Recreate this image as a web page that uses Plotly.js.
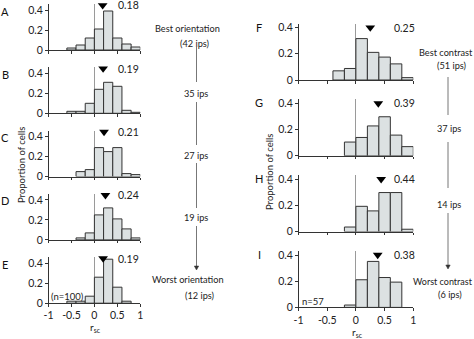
<!DOCTYPE html>
<html><head><meta charset="utf-8">
<script src="https://cdn.plot.ly/plotly-3.0.1.min.js"></script>
<style>html,body{margin:0;padding:0;background:#fff}#chart{width:474px;height:339px}</style>
</head><body><div id="chart"></div>
<script>
// ---- data ----
const binsLeft = [-0.5, -0.3, -0.1, 0.1, 0.3, 0.5, 0.7, 0.9];
const binsRight = [-0.3, -0.1, 0.1, 0.3, 0.5, 0.7, 0.9];
const propA = [0.02, 0.05, 0.12, 0.21, 0.39, 0.12, 0.06, 0.03];
const propB = [0.02, 0.02, 0.10, 0.24, 0.31, 0.27, 0.03, 0.01];
const propC = [null, 0.05, 0.07, 0.29, 0.25, 0.29, 0.03, 0.02];
const propD = [null, 0.02, 0.07, 0.25, 0.32, 0.21, 0.11, 0.02];
const propE = [0.02, 0.02, 0.07, 0.26, 0.44, 0.16, 0.02, null];
const propF = [0.070, 0.088, 0.316, 0.211, 0.175, 0.123, 0.018];
const propG = [null, 0.105, 0.140, 0.228, 0.298, 0.158, 0.070];
const propH = [null, 0.035, 0.193, 0.158, 0.298, 0.298, 0.018];
const propI = [null, 0.018, 0.211, 0.351, 0.228, 0.193, null];
const meansLeft = [0.18, 0.19, 0.21, 0.24, 0.19];
const meansRight = [0.25, 0.39, 0.44, 0.38];
const lettersLeft = ['A', 'B', 'C', 'D', 'E'];
const lettersRight = ['F', 'G', 'H', 'I'];
const xTicks = [-1, -0.5, 0, 0.5, 1];
const xTickText = ['-1', '-0.5', '0', '0.5', '1'];
const yTicks = [0, 0.2, 0.4];
const yTickText = ['0', '0.2', '0.4'];
const orientLabels = ['Best orientation', '(42 ips)', '35 ips', '27 ips', '19 ips', 'Worst orientation', '(12 ips)'];
const contrastLabels = ['Best contrast', '(51 ips)', '37 ips', '14 ips', 'Worst contrast', '(6 ips)'];
const nLeft = '(n=100)';
const nRight = 'n=57';

// ---- layout helpers ----
const W = 474, H = 339;
const px = x => x / W;
const py = y => 1 - y / H;
const FONT = 'Lato, "Open Sans", sans-serif';
const TXT = '#222';
const barFill = '#dce1e2';
const lineCol = '#333';

const leftData = [propA, propB, propC, propD, propE];
const rightData = [propF, propG, propH, propI];

const traces = [];
const layout = {
  width: W, height: H,
  margin: {l: 0, r: 0, t: 0, b: 0},
  paper_bgcolor: '#fff', plot_bgcolor: 'rgba(0,0,0,0)',
  showlegend: false,
  font: {family: FONT, size: 11, color: TXT},
  bargap: 0,
  annotations: [], shapes: []
};

function axisPair(idx, xdom, ydom, yTop, showX) {
  const xs = idx === 1 ? 'xaxis' : 'xaxis' + idx;
  const ys = idx === 1 ? 'yaxis' : 'yaxis' + idx;
  const yid = idx === 1 ? 'y' : 'y' + idx;
  const xid = idx === 1 ? 'x' : 'x' + idx;
  layout[xs] = {
    domain: xdom, anchor: yid, range: [-1, 1],
    showgrid: false, zeroline: true, zerolinecolor: '#9a9a9a', zerolinewidth: 1,
    showline: true, linecolor: lineCol, linewidth: 1,
    ticks: 'outside', ticklen: 2.5, tickcolor: lineCol, tickwidth: 1,
    tickvals: xTicks, ticktext: xTickText, showticklabels: showX,
    tickfont: {family: FONT, size: 10.5, color: TXT}, fixedrange: true
  };
  layout[ys] = {
    domain: ydom, anchor: xid, range: [0, yTop],
    showgrid: false, zeroline: false,
    showline: true, linecolor: lineCol, linewidth: 1,
    ticks: 'outside', ticklen: 2.5, tickcolor: lineCol, tickwidth: 1,
    tickvals: yTicks, ticktext: yTickText,
    tickfont: {family: FONT, size: 10.5, color: TXT}, fixedrange: true
  };
  return [xid, yid];
}

// left column
const leftX = [px(48.5), px(140.3)];
for (let i = 0; i < 5; i++) {
  const zero = 50 + 63.3 * i;
  const yTop = 0.46;
  const top = zero - yTop * 100;
  const [xid, yid] = axisPair(i + 1, leftX, [py(zero), py(top)], yTop, i === 4);
  traces.push({type: 'bar', x: binsLeft, y: leftData[i], width: 0.2, xaxis: xid, yaxis: yid,
    marker: {color: barFill, line: {color: lineCol, width: 1}}, hoverinfo: 'skip'});
  traces.push({type: 'scatter', mode: 'markers', x: [meansLeft[i]], y: [0.447], xaxis: xid, yaxis: yid,
    cliponaxis: false, marker: {symbol: 'triangle-down', size: 8.5, color: '#000', line: {width: 0}}, hoverinfo: 'skip'});
  layout.annotations.push({xref: xid, yref: yid, x: 0.75, y: 0.445, text: meansLeft[i].toFixed(2),
    showarrow: false, font: {family: FONT, size: 10.5, color: TXT}, xanchor: 'center', yanchor: 'middle'});
  layout.annotations.push({xref: 'paper', yref: 'paper', x: px(5), y: py(zero - 39), text: lettersLeft[i],
    showarrow: false, font: {family: FONT, size: 11, color: '#111'}, xanchor: 'center', yanchor: 'middle'});
}

// right column
const rightX = [px(298.5), px(413.3)];
for (let j = 0; j < 4; j++) {
  const zero = 80 + 75.8 * j;
  const yTop = 0.43;
  const top = zero - yTop * 131;
  const idx = 6 + j;
  const [xid, yid] = axisPair(idx, rightX, [py(zero), py(top)], yTop, j === 3);
  traces.push({type: 'bar', x: binsRight, y: rightData[j], width: 0.2, xaxis: xid, yaxis: yid,
    marker: {color: barFill, line: {color: lineCol, width: 1}}, hoverinfo: 'skip'});
  traces.push({type: 'scatter', mode: 'markers', x: [meansRight[j]], y: [0.40], xaxis: xid, yaxis: yid,
    cliponaxis: false, marker: {symbol: 'triangle-down', size: 8.5, color: '#000', line: {width: 0}}, hoverinfo: 'skip'});
  layout.annotations.push({xref: xid, yref: yid, x: 0.84, y: 0.40, text: meansRight[j].toFixed(2),
    showarrow: false, font: {family: FONT, size: 10.5, color: TXT}, xanchor: 'center', yanchor: 'middle'});
  layout.annotations.push({xref: 'paper', yref: 'paper', x: px(259), y: py(zero - 53), text: lettersRight[j],
    showarrow: false, font: {family: FONT, size: 11, color: '#111'}, xanchor: 'center', yanchor: 'middle'});
}

function txt(x, y, t, size) {
  layout.annotations.push({xref: 'paper', yref: 'paper', x: px(x), y: py(y), text: t, showarrow: false,
    font: {family: FONT, size: size || 10, color: TXT}, xanchor: 'center', yanchor: 'middle'});
}
// axis titles
layout.annotations.push({xref: 'paper', yref: 'paper', x: px(21), y: py(165), text: 'Proportion of cells',
  textangle: -90, showarrow: false, font: {family: FONT, size: 9.5, color: TXT}, xanchor: 'center', yanchor: 'middle'});
layout.annotations.push({xref: 'paper', yref: 'paper', x: px(269), y: py(172), text: 'Proportion of cells',
  textangle: -90, showarrow: false, font: {family: FONT, size: 9.5, color: TXT}, xanchor: 'center', yanchor: 'middle'});
txt(95, 327, 'r<sub>sc</sub>', 10);
txt(357, 332, 'r<sub>sc</sub>', 10);
txt(67, 296, nLeft, 9.5);
txt(313, 301, nRight, 9.5);

// orientation / contrast arrow columns
const oPos = [[187, 28], [195, 43], [196, 93], [196, 155], [196, 217], [188, 279], [200, 295]];
orientLabels.forEach((t, k) => txt(oPos[k][0], oPos[k][1], t, 9.2));
const cPos = [[446, 53], [452, 66], [449, 128], [449, 204], [443, 281], [450, 294]];
contrastLabels.forEach((t, k) => txt(cPos[k][0], cPos[k][1], t, k === 4 ? 9 : 9.2));

function vline(x, y0, y1) {
  layout.shapes.push({type: 'line', xref: 'paper', yref: 'paper', x0: px(x), x1: px(x), y0: py(y0), y1: py(y1),
    line: {color: '#777', width: 1}});
}
function varrow(x, y0, y1) {
  vline(x, y0, y1 - 3);
  layout.shapes.push({type: 'path', xref: 'paper', yref: 'paper',
    path: 'M ' + px(x - 2.2) + ' ' + py(y1 - 4) + ' L ' + px(x + 2.2) + ' ' + py(y1 - 4) + ' L ' + px(x) + ' ' + py(y1) + ' Z',
    fillcolor: '#333', line: {color: '#333', width: 0.5}});
}
vline(196.5, 47, 82); vline(196.5, 102, 145); vline(196.5, 163, 208); varrow(196.5, 226, 270);
vline(448, 77, 115); vline(448, 142, 188); varrow(448, 213, 269);

Plotly.newPlot('chart', traces, layout, {staticPlot: true, displayModeBar: false});
</script>
</body></html>
